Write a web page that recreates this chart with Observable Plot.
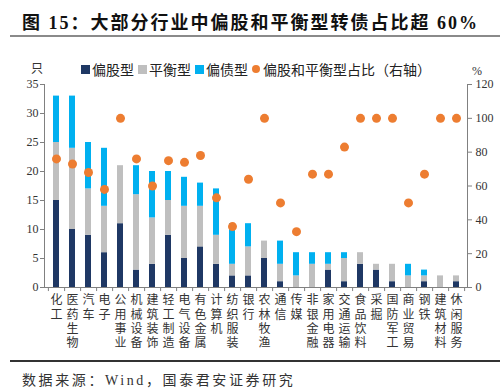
<!DOCTYPE html>
<html><head><meta charset="utf-8">
<script src="https://cdn.jsdelivr.net/npm/d3@7"></script>
<script src="https://cdn.jsdelivr.net/npm/@observablehq/plot@0.6"></script>
<style>
body{margin:0;background:#fff;width:500px;height:390px;position:relative;overflow:hidden;font-family:"Liberation Serif","Noto Sans CJK SC",serif;color:#222}
.abs{position:absolute;white-space:nowrap}
#title{left:22px;top:8px;font-size:18px;font-weight:bold;color:#111;letter-spacing:2px}
#tline{left:10px;top:35px;width:490px;height:2px;background:#8a8a8a}
#bline{left:10px;top:360px;width:490px;height:1.5px;background:#333}
#src{left:22px;top:369px;font-size:14px;color:#333;letter-spacing:2.6px}
#legend{left:81px;top:59px;font-size:14px;display:flex;align-items:center;color:#222}
#legend span.sw{display:inline-block;width:9px;height:9px;margin-right:2px}
#legend span.dt{display:inline-block;width:8px;height:8px;border-radius:50%;margin-right:3px}
#legend .it{display:flex;align-items:center;margin-right:4px}
#unitL{left:31px;top:59px;font-size:12px;color:#333}
#unitR{left:472px;top:64px;font-size:12px;color:#333}
#chart{left:0;top:40px}
</style></head>
<body>
<div class="abs" id="title">图 15：大部分行业中偏股和平衡型转债占比超 60%</div>
<div class="abs" id="tline"></div>
<div class="abs" id="unitL">只</div>
<div class="abs" id="unitR">%</div>
<div class="abs" id="legend"></div>
<div class="abs" id="chart"></div>
<div class="abs" id="bline"></div>
<div class="abs" id="src">数据来源：Wind，国泰君安证券研究</div>
<script>
const cats = ["化工","医药生物","汽车","电子","公用事业","机械设备","建筑装饰","轻工制造","电气设备","有色金属","计算机","纺织服装","银行","农林牧渔","通信","传媒","非银金融","家用电器","交通运输","食品饮料","采掘","国防军工","商业贸易","钢铁","建筑材料","休闲服务"];
const stockType = [15,10,9,6,11,3,4,9,5,7,4,2,2,5,1,0,0,3,1,4,3,1,0,1,0,1];
const balancedType = [10,14,8,8,10,13,8,6,9,7,5,2,5,3,3,2,4,1,4,2,1,3,2,1,2,1];
const bondType = [8,9,8,10,0,5,8,5,5,4,8,7,4,0,4,4,2,2,1,0,0,0,2,1,0,0];
const ratioPct = [76,73,68,58,100,76,60,75,74,78,53,36,64,100,50,33,67,67,83,100,100,100,50,67,100,100];
const seriesNames = ["偏股型","平衡型","偏债型"];
const dotName = "偏股和平衡型占比（右轴）";
const leftTicks = [0,5,10,15,20,25,30,35];
const rightTicks = [0,20,40,60,80,100,120];
const colors = ["#1f3864","#bfbfbf","#00b0f0"];
const dotColor = "#ed7d31";

const leftMax = 35, rightMax = 120;
const toLeft = v => v * leftMax / rightMax;

const long = [];
cats.forEach((c,i)=>{
  [stockType[i], balancedType[i], bondType[i]].forEach((v,k)=>long.push({cat:c,type:seriesNames[k],value:v}));
});
const dots = cats.map((c,i)=>({cat:c, ratio: ratioPct[i]}));

// legend
const lg = document.getElementById("legend");
seriesNames.forEach((n,k)=>{
  const it=document.createElement("div");it.className="it";
  it.innerHTML=`<span class="sw" style="background:${colors[k]}"></span>${n}`;
  lg.appendChild(it);
});
{
  const it=document.createElement("div");it.className="it";
  it.innerHTML=`<span class="dt" style="background:${dotColor}"></span>${dotName}`;
  lg.appendChild(it);
}

const W=500,H=320,mL=44,mR=33,mT=44,mB=73;
const pi=0.63, po=0.34;
const step=(W-mL-mR)/(cats.length - pi + 2*po);

const chart = Plot.plot({
  width: W, height: H, marginLeft: mL, marginRight: mR, marginTop: mT, marginBottom: mB,
  style: {fontFamily: '"Liberation Serif","Noto Sans CJK SC",serif', fontSize: "12px", color: "#333", background: "transparent"},
  x: {domain: cats, paddingInner: pi, paddingOuter: po, axis: null, label: null},
  y: {domain: [0, leftMax], axis: null, label: null},
  color: {domain: seriesNames, range: colors},
  marks: [
    Plot.barY(long, {x: "cat", y: "value", fill: "type"}),
    Plot.ruleY([0], {stroke: "#808080"}),
    Plot.ruleX(cats, {x: d=>d, y1: -0.7, y2: 0, dx: step/2, stroke: "#808080"}),
    Plot.ruleX([cats[0]], {x: d=>d, y1: -0.7, y2: 0, dx: -step/2, stroke: "#808080"}),
    Plot.frame({anchor: "left", stroke: "#808080"}),
    Plot.frame({anchor: "right", stroke: "#808080"}),
    Plot.axisY({anchor: "left", label: null, ticks: leftTicks, tickSize: 4, tickPadding: 2, stroke: "#808080", fill: "#333"}),
    Plot.axisY({anchor: "right", label: null, ticks: rightTicks.map(toLeft), tickFormat: v => String(Math.round(v*rightMax/leftMax)), tickSize: 4, tickPadding: 4, stroke: "#808080", fill: "#333"}),
    Plot.axisX({anchor: "bottom", label: null, tickSize: 0, tickPadding: 7, tickFormat: d => d.split("").join("\n"), lineHeight: 1.17, fontSize: 12, fill: "#333"}),
    Plot.dot(dots, {x: "cat", y: d => toLeft(d.ratio), r: 4.5, fill: dotColor, stroke: "none"})
  ]
});
document.getElementById("chart").appendChild(chart);
</script>
</body></html>
